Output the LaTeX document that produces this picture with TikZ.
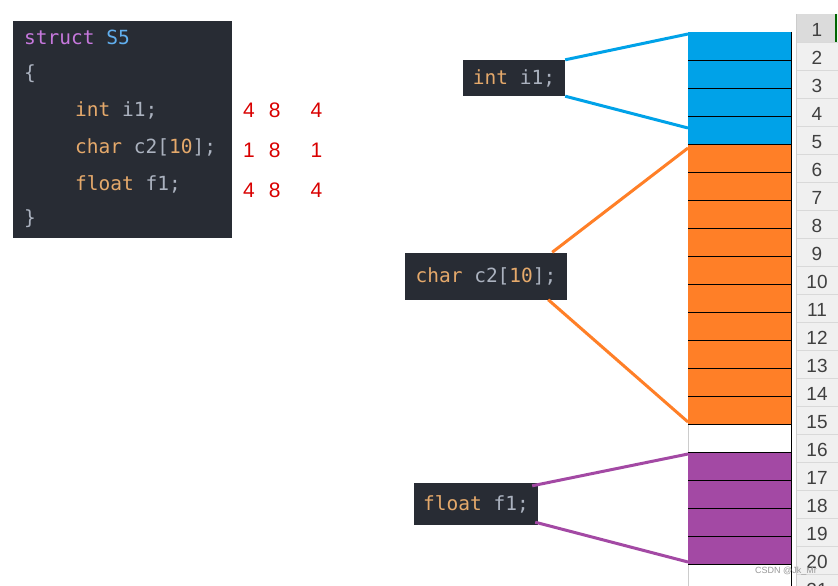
\documentclass[tikz,border=0pt]{standalone}
\usepackage{fontspec}
\setmonofont{DejaVu Sans Mono}
\setmainfont{Liberation Sans}
\begin{document}
\begin{tikzpicture}[x=1pt,y=-1pt,
  code/.style={font=\ttfamily\fontsize{19.5}{22}\selectfont,text=codetx,anchor=west,inner sep=0},
  lbl/.style={fill=codebg,font=\ttfamily\fontsize{19.5}{22}\selectfont,text=codetx,inner sep=0},
  red/.style={font=\fontsize{21}{24}\selectfont,text=red!85!black,anchor=west,inner sep=0},
  num/.style={font=\fontsize{19}{22}\selectfont,text=black!75,inner sep=0},
  conn/.style={line width=3pt}]
\definecolor{codebg}{HTML}{282C34}
\definecolor{codetx}{HTML}{ABB2BF}
\definecolor{kw}{HTML}{C678DD}
\definecolor{tp}{HTML}{E5A96B}
\definecolor{nm}{HTML}{61AFEF}
\definecolor{cblue}{HTML}{00A2E8}
\definecolor{corange}{HTML}{FF7F27}
\definecolor{cpurple}{HTML}{A349A4}
\useasboundingbox (0,0) rectangle (838,586);
\fill[white] (0,0) rectangle (838,586);
% code box
\fill[codebg] (13,21) rectangle (232,238);
\node[code] (l1) at (24,37) {\textcolor{kw}{struct} \textcolor{nm}{S5}};
\node[code] (l2) at (24,74) {\{};
\node[code] (l3) at (75,110) {\textcolor{tp}{int} i1;};
\node[code] (l4) at (75,147) {\textcolor{tp}{char} c2[\textcolor{tp}{10}];};
\node[code] (l5) at (75,184) {\textcolor{tp}{float} f1;};
\node[code] (l6) at (24,219) {\}};
\node[red] (r1) at (243,110) {4\hspace{14pt}8\hspace{30pt}4};
\node[red] (r2) at (243,150) {1\hspace{14pt}8\hspace{30pt}1};
\node[red] (r3) at (243,190) {4\hspace{14pt}8\hspace{30pt}4};
% number column
\fill[black!6] (796,14) rectangle (838,586);
\fill[black!14] (796,14) rectangle (836,42);
\draw[green!40!black,line width=1.5pt] (836,14) -- (836,42);
\foreach \k in {1,...,21}{
  \draw[black!15] (796,{14+28*\k}) -- (838,{14+28*\k});
  \node[num] (n\k) at (817,{30+28*(\k-1)}) {\k};
}
\draw[black!20] (796,14) -- (796,586);
% memory cells
\draw[black!20] (688,32) -- (688,586);
\foreach \i in {0,...,3} \fill[cblue] (688,{32+28*\i}) rectangle (791,{60+28*\i});
\foreach \i in {4,...,13} \fill[corange] (688,{32+28*\i}) rectangle (791,{60+28*\i});
\foreach \i in {15,...,18} \fill[cpurple] (688,{32+28*\i}) rectangle (791,{60+28*\i});
\foreach \k in {1,...,19} \draw[black,line width=0.6pt] (688,{32+28*\k}) -- (791,{32+28*\k});
\draw[black,line width=0.8pt] (791,32) -- (791,586);
\coordinate (b1) at (688,34); \coordinate (b2) at (688,128);
\coordinate (o1) at (688,148); \coordinate (o2) at (688,422);
\coordinate (p1) at (688,454); \coordinate (p2) at (688,562);
% labels
\node[lbl,minimum width=102pt,minimum height=36pt] (li) at (514,78) {\textcolor{tp}{int} i1;};
\node[lbl,minimum width=162pt,minimum height=47pt] (lc) at (486,276) {\textcolor{tp}{char} c2[\textcolor{tp}{10}];};
\node[lbl,minimum width=124pt,minimum height=42pt] (lf) at (476,504) {\textcolor{tp}{float} f1;};
\draw[conn,cblue] (li.north east) -- (b1);
\draw[conn,cblue] (li.south east) -- (b2);
\draw[conn,corange] ([xshift=-15pt]lc.north east) -- (o1);
\draw[conn,corange] ([xshift=-19pt]lc.south east) -- (o2);
\draw[conn,cpurple] ([xshift=-6pt,yshift=-3pt]lf.north east) -- (p1);
\draw[conn,cpurple] ([xshift=-3pt,yshift=3pt]lf.south east) -- (p2);
\node[font=\fontsize{9}{10}\selectfont,text=black!40,inner sep=0] (wm) at (786,571) {CSDN @Jk\_Mr};
\end{tikzpicture}
\end{document}
